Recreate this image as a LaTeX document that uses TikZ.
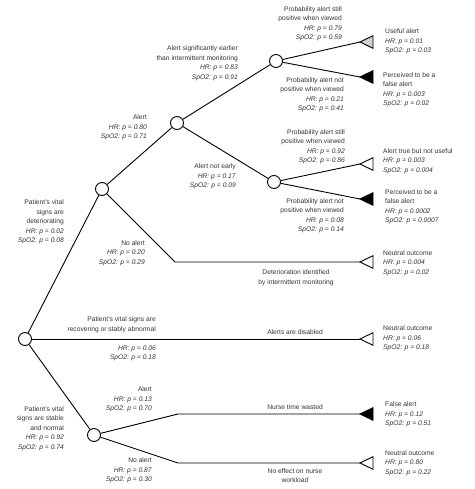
\documentclass[tikz,border=0pt]{standalone}
\usepackage{fontspec}
\setmainfont{Liberation Sans}
\newcommand{\pvals}[2]{\textit{HR: p = #1}\\\textit{SpO2: p = #2}}

\begin{document}
\begin{tikzpicture}[x=1pt,y=-1pt,
  chance/.style={circle,draw,fill=white,line width=0.9pt,minimum size=13pt,inner sep=0pt},
  lbl/.style={font=\fontsize{6.7}{9.5}\selectfont,text=black!80,inner sep=0pt},
  lblr/.style={lbl,anchor=east,align=right},
  lbll/.style={lbl,anchor=west,align=left},
  lblc/.style={lbl,align=center}]
\useasboundingbox (0,0) rectangle (474,489);

% Chance nodes
\node[chance] (root) at (25,339) {};
\node[chance] (det) at (102,189) {};
\node[chance] (alert) at (177,123) {};
\node[chance] (early) at (276,61) {};
\node[chance] (late) at (274,182) {};
\node[chance] (stable) at (94,435) {};

% Tips of the end triangles
\coordinate (t1) at (360,42);
\coordinate (t2) at (360,77);
\coordinate (t3) at (360,164);
\coordinate (t4) at (360,199);
\coordinate (t5) at (360,262);
\coordinate (t6) at (360,339);
\coordinate (t7) at (360,414);
\coordinate (t8) at (360,463);

% Bends
\coordinate (b1) at (175,262);
\coordinate (b2) at (178,414);
\coordinate (b3) at (178,463);

% Branches
\begin{scope}[line width=0.9pt]
\draw (root) -- (det);
\draw (root) -- (t6);
\draw (root) -- (stable);
\draw (det) -- (alert);
\draw (det) -- (b1) -- (t5);
\draw (alert) -- (early);
\draw (alert) -- (late);
\draw (early) -- (t1);
\draw (early) -- (t2);
\draw (late) -- (t3);
\draw (late) -- (t4);
\draw (stable) -- (b2) -- (t7);
\draw (stable) -- (b3) -- (t8);
\end{scope}

% End triangles
\foreach \t/\c in {t1/black!18,t2/black,t3/white,t4/black,t5/white,t6/white,t7/black,t8/white}
  \draw[line width=0.9pt,fill=\c] (\t) -- ++(13,-6.3) -- ++(0,12.6) -- cycle;

% Labels left of the nodes
\node[lblr] (l-early) at (238,63.5) {Alert significantly earlier\\than intermittent monitoring\\\pvals{0.83}{0.91}};
\node[lblr] (l-alert) at (147,127.5) {Alert\\\pvals{0.80}{0.71}};
\node[lblr] (l-late) at (236,176.5) {Alert not early\\\pvals{0.17}{0.09}};
\node[lblr] (l-det) at (64,222) {Patient's vital\\signs are\\deteriorating\\\pvals{0.02}{0.08}};
\node[lblr] (l-noalert) at (145,253) {No alert\\\pvals{0.20}{0.29}};
\node[lblr] (l-rec) at (156,325) {Patient's vital signs are\\recovering or stably abnormal};
\node[lblr] (l-recp) at (156,353.5) {\pvals{0.06}{0.18}};
\node[lblr] (l-salert) at (152,399.5) {Alert\\\pvals{0.13}{0.70}};
\node[lblr] (l-stable) at (64,428.5) {Patient's vital\\signs are stable\\and normal\\\pvals{0.92}{0.74}};
\node[lblr] (l-snoalert) at (152,470.5) {No alert\\\pvals{0.87}{0.30}};
\node[lblr] (l-still1) at (342,24) {Probability alert still\\positive when viewed\\\pvals{0.79}{0.59}};
\node[lblr] (l-notpos1) at (344,95) {Probability alert not\\positive when viewed\\\pvals{0.21}{0.41}};
\node[lblr] (l-still2) at (345,147) {Probability alert still\\positive when viewed\\\pvals{0.92}{0.86}};
\node[lblr] (l-notpos2) at (344,216) {Probability alert not\\positive when viewed\\\pvals{0.08}{0.14}};

% Labels on the straight branches
\node[lblc] (l-ident) at (296,278) {Deterioration identified\\by intermittent monitoring};
\node[lblc] (l-disabled) at (295,332) {Alerts are disabled};
\node[lblc] (l-wasted) at (295,407) {Nurse time wasted};
\node[lblc] (l-noeffect) at (295,475.5) {No effect on nurse\\workload};

% Outcomes
\node[lbll] (o1) at (385,41.5) {Useful alert\\\pvals{0.01}{0.03}};
\node[lbll] (o2) at (383,90) {Perceived to be a\\false alert\\\pvals{0.003}{0.02}};
\node[lbll] (o3) at (383,161) {Alert true but not useful\\\pvals{0.003}{0.004}};
\node[lbll] (o4) at (385,207) {Perceived to be a\\false alert\\\pvals{0.0002}{0.0007}};
\node[lbll] (o5) at (383,263) {Neutral outcome\\\pvals{0.004}{0.02}};
\node[lbll] (o6) at (383,338.5) {Neutral outcome\\\pvals{0.06}{0.18}};
\node[lbll] (o7) at (385,414.5) {False alert\\\pvals{0.12}{0.51}};
\node[lbll] (o8) at (385,463) {Neutral outcome\\\pvals{0.80}{0.22}};
\end{tikzpicture}
\end{document}
